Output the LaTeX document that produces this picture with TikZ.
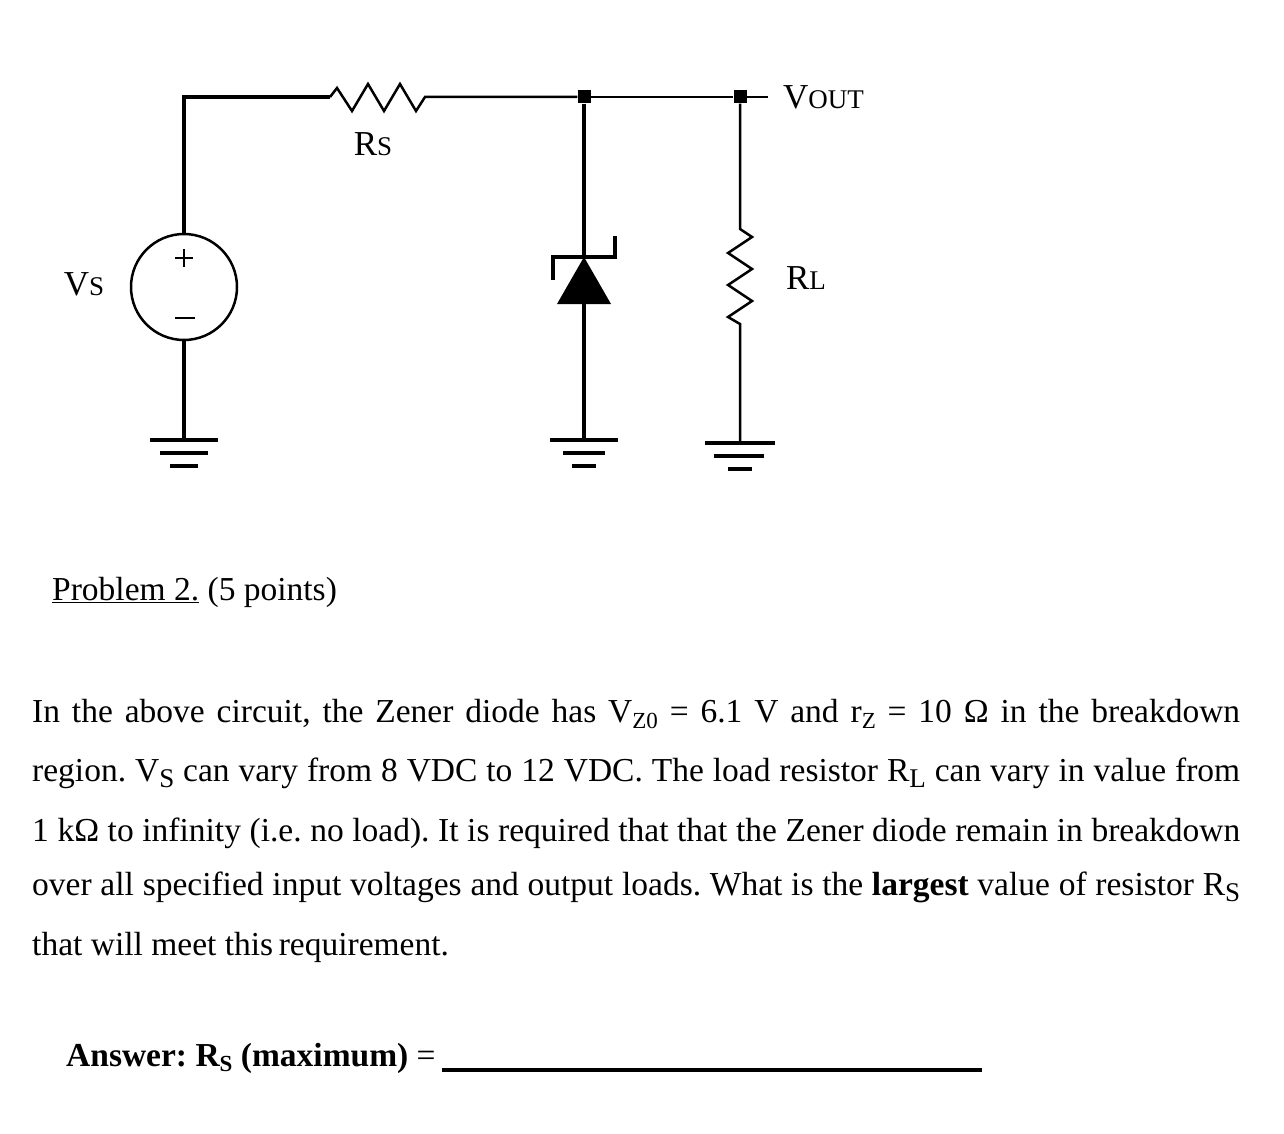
\documentclass[tikz,border=0pt]{standalone}
\usepackage{fontspec}
\setmainfont{Liberation Serif}
\frenchspacing
\begin{document}
\begin{tikzpicture}[x=1pt,y=-1pt,
  wire/.style={line width=3.5pt},
  thin/.style={line width=2.5pt},
  gnd/.style={line width=4pt},
  lbl/.style={font=\fontsize{35}{40}\selectfont, inner sep=0},
  txt/.style={font=\fontsize{33.5}{40}\selectfont, anchor=base west, inner sep=0},
  jn/.style={fill=black, minimum size=13pt, inner sep=0, draw=none}]
\useasboundingbox (0,0) rectangle (1284,1134);
% nodes
\coordinate (tl) at (184,97);
\coordinate (r1) at (330,97);
\coordinate (r2) at (425,97);
\node[jn] (j1) at (584,97) {};
\node[jn] (j2) at (740,97) {};
\node[circle, draw, line width=2.5pt, minimum size=106pt, inner sep=0] (src) at (184,287) {};
\draw[line width=2.5pt] (175,258) -- (193,258) (184,249) -- (184,267);
\draw[line width=2.5pt] (175,318) -- (195,318);
% wires
\draw[wire] (src.north) -- (tl) -- (r1);
\draw[thin] (r1) -- (337,88) -- (352,111) -- (368,84) -- (384,111) -- (400,84) -- (416,111) -- (r2) -- (j1);
\draw[thin] (j1) -- (j2) -- (768,97);
\node[lbl, anchor=west] at (783,97) {V\fontsize{27}{30}\selectfont OUT};
\node[lbl] at (373,144) {R\fontsize{27}{30}\selectfont S};
\node[lbl] at (84,284) {V\fontsize{27}{30}\selectfont S};
\node[lbl] at (806,278) {R\fontsize{27}{30}\selectfont L};
% source ground
\draw[wire] (src.south) -- (184,440);
\draw[gnd] (150,440) -- (218,440) (160,453) -- (208,453) (170,466) -- (198,466);
% zener
\draw[wire] (j1) -- (584,257);
\draw[wire] (553,280) -- (553,257) -- (615,257) -- (615,236);
\fill (584,257) -- (557,304) -- (611,304) -- cycle;
\draw[wire] (584,304) -- (584,440);
\draw[gnd] (550,440) -- (618,440) (563,453) -- (605,453) (572,466) -- (596,466);
% RL
\draw[thin] (j2) -- (740,229) -- (752,237) -- (728,253) -- (752,269) -- (728,285) -- (752,301) -- (728,317) -- (740,324) -- (740,443);
\draw[gnd] (705,443) -- (775,443) (714,456) -- (764,456) (728,469) -- (752,469);
% text
\node[txt] at (52,600) {\underline{Problem 2.} (5 points)};
\node[txt] at (32,722) {\makebox[1208pt][s]{In the above circuit, the Zener diode has V\raisebox{-6pt}{\fontsize{23}{23}\selectfont Z0} = 6.1 V and r\raisebox{-6pt}{\fontsize{23}{23}\selectfont Z} = 10 Ω in the breakdown}};
\node[txt] at (32,781) {\makebox[1208pt][s]{region. V\raisebox{-6pt}{\fontsize{27}{27}\selectfont S} can vary from 8 VDC to 12 VDC. The load resistor R\raisebox{-6pt}{\fontsize{27}{27}\selectfont L} can vary in value from}};
\node[txt] at (32,841) {\makebox[1208pt][s]{1 kΩ to infinity (i.e. no load). It is required that that the Zener diode remain in breakdown}};
\node[txt] at (32,895) {\makebox[1208pt][s]{over all specified input voltages and output loads. What is the \textbf{largest} value of resistor R\raisebox{-6pt}{\fontsize{27}{27}\selectfont S}}};
\node[txt] at (32,955) {that will meet this\,requirement.};
\node[txt] at (66,1066) {\textbf{Answer: R\raisebox{-5pt}{\fontsize{23}{23}\selectfont S} (maximum)} =};
\draw[line width=4pt] (442,1070) -- (982,1070);
\end{tikzpicture}
\end{document}
